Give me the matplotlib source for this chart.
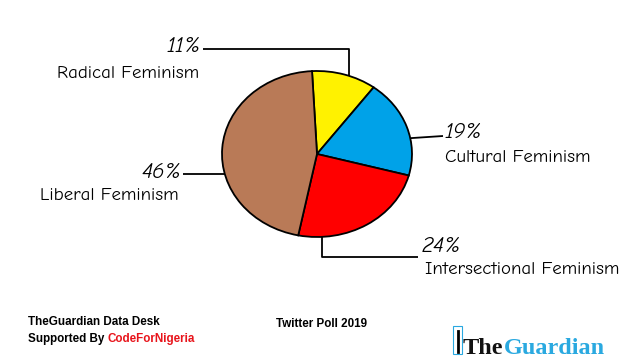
import numpy as np
import matplotlib
matplotlib.use("Agg")
import matplotlib.pyplot as plt

# data
labels = ["Radical Feminism", "Cultural Feminism", "Intersectional Feminism", "Liberal Feminism"]
values = [11, 19, 24, 46]
colors = ["#FFF200", "#00A2E8", "#FF0000", "#B97A57"]

HAND = ["Comic Neue", "DejaVu Sans"]

fig = plt.figure(figsize=(6.4, 3.6), dpi=100)
fig.patch.set_facecolor("white")

# overlay axes in pixel units for leader lines and texts
ov = fig.add_axes([0, 0, 1, 1])
ov.set_xlim(0, 640)
ov.set_ylim(360, 0)
ov.axis("off")

# pie axes sized so the pie is a slight ellipse
ax = fig.add_axes([222 / 640, (360 - 237) / 360, 190 / 640, 166 / 360])
wedges, _ = ax.pie(values, colors=colors, startangle=93, counterclock=False,
                   wedgeprops=dict(edgecolor="black", linewidth=1.3))
for w in wedges:
    w.set_clip_on(False)
ax.set_aspect("auto")
ax.set_xlim(-1, 1)
ax.set_ylim(-1, 1)


def rim(angle):
    a = np.deg2rad(angle)
    d = ax.transData.transform((np.cos(a), np.sin(a)))
    return ov.transData.inverted().transform(d)


line_kw = dict(color="black", lw=1.3, solid_capstyle="butt")
pct_kw = dict(fontsize=16.5, style="italic", family=HAND, va="center")
lab_kw = dict(fontsize=13.5, family=HAND, va="center")

# Radical
x0, y0 = rim(70)
ov.plot([x0, x0, 203], [y0, 49, 49], **line_kw)
ov.text(201, 47, f"{values[0]}%", ha="right", **pct_kw)
ov.text(57, 73, labels[0], ha="left", **lab_kw)

# Cultural
x0, y0 = rim(11)
ov.plot([x0, 443], [y0, 136], **line_kw)
ov.text(445, 133, f"{values[1]}%", ha="left", **pct_kw)
ov.text(445, 157, labels[1], ha="left", **lab_kw)

# Intersectional
x0, y0 = rim(-87)
ov.plot([x0, x0, 418], [y0, 257, 257], **line_kw)
ov.text(422, 247, f"{values[2]}%", ha="left", **pct_kw)
ov.text(425, 270, labels[2], ha="left", **lab_kw)

# Liberal
x0, y0 = rim(194)
ov.plot([x0, 183], [y0, y0], **line_kw)
ov.text(181, 172, f"{values[3]}%", ha="right", **pct_kw)
ov.text(40, 195, labels[3], ha="left", **lab_kw)

# footer
foot = dict(fontsize=8.4, fontweight="bold", family="Liberation Sans", va="center")
ov.text(28, 322, "TheGuardian Data Desk", ha="left", **foot)
sup = ov.text(28, 339, "Supported By ", ha="left", **foot)
ov.text(322, 324, "Twitter Poll 2019", ha="center", **foot)

# logo
ov.add_patch(plt.Rectangle((453, 326), 9, 28, fill=False, ec="#29A8E0", lw=0.8))
ov.plot([457.5, 457.5], [331, 352], color="black", lw=2)
logo = dict(fontsize=17.5, fontweight="bold", family="Liberation Serif", va="baseline")
the = ov.text(463, 354, "The", ha="left", color="#111111", **logo)

fig.canvas.draw()
inv = ov.transData.inverted()
bb = sup.get_window_extent()
ov.text(inv.transform((bb.x1, bb.y0))[0], 339, "CodeForNigeria", ha="left",
        color="#E8141B", **foot)
bb = the.get_window_extent()
ov.text(inv.transform((bb.x1, bb.y0))[0], 354, "Guardian", ha="left",
        color="#2AA9E0", **logo)

fig.savefig("out.png", dpi=100)
